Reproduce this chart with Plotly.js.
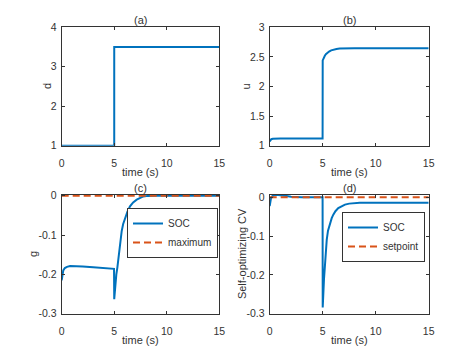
<!DOCTYPE html>
<html>
<head>
<meta charset="utf-8">
<script src="https://cdn.plot.ly/plotly-3.0.1.min.js"></script>
<style>html,body{margin:0;padding:0;background:#fff;}#chart{width:474px;height:355px;}</style>
</head>
<body>
<div id="chart"></div>
<script>
// ---- data ----
const tD = [0, 5, 5, 15];
const dVals = [1, 1, 3.5, 3.5];

const tU = [0, 0.05, 0.15, 0.3, 0.6, 1, 2, 3, 4, 4.99, 5, 5.05, 5.1, 5.2, 5.3, 5.45, 5.6, 5.8, 6, 6.3, 6.6, 7, 7.5, 8, 10, 15];
const uVals = [1.07, 1.095, 1.11, 1.118, 1.122, 1.123, 1.122, 1.121, 1.12, 1.12, 2.44, 2.47, 2.49, 2.52, 2.545, 2.57, 2.59, 2.61, 2.622, 2.633, 2.64, 2.645, 2.647, 2.648, 2.648, 2.648];

const tG = [0, 0.05, 0.15, 0.3, 0.5, 0.8, 1.2, 2, 3, 4, 4.98, 5.0, 5.05, 5.12, 5.2, 5.3, 5.4, 5.49, 5.6, 5.71, 5.85, 6.03, 6.25, 6.5, 6.8, 7.14, 7.45, 7.77, 8.2, 9, 15];
const gVals = [-0.215, -0.2, -0.19, -0.184, -0.181, -0.179, -0.179, -0.180, -0.182, -0.184, -0.186, -0.263, -0.245, -0.222, -0.2, -0.182, -0.155, -0.132, -0.11, -0.090, -0.072, -0.056, -0.041, -0.027, -0.017, -0.010, -0.005, -0.002, -0.0005, 0, 0];

const tCV = [0, 0.05, 0.12, 0.25, 0.5, 0.8, 1.2, 1.6, 2, 3, 4.99, 5.0, 5.05, 5.12, 5.22, 5.3, 5.38, 5.5, 5.69, 5.85, 6.0, 6.2, 6.47, 6.75, 7.1, 7.5, 7.9, 8.5, 10, 15];
const cvVals = [-0.023, -0.012, -0.003, 0.003, 0.006, 0.006, 0.005, 0.003, 0.001, 0, 0, -0.284, -0.255, -0.212, -0.170, -0.138, -0.110, -0.086, -0.066, -0.054, -0.045, -0.036, -0.028, -0.023, -0.019, -0.0165, -0.015, -0.0145, -0.014, -0.014];

const tRef = [0, 15];
const refVals = [0, 0];

const xTicks = [0, 5, 10, 15];
const dTicks = [1, 2, 3, 4];
const uTicks = [1, 1.5, 2, 2.5, 3];
const gTicks = [-0.3, -0.2, -0.1, 0];
const gTickText = ['-0.3', '-0.2', '-0.1', '0'];

// ---- styling ----
const W = 474, H = 355;
const px = v => v / W;
const py = v => 1 - v / H;
const BLUE = '#0072BD', ORANGE = '#D95319', AX = '#333333';
const FONT = 'Liberation Sans, Arial, Helvetica, sans-serif';

const traces = [
  {x: tD, y: dVals, xaxis: 'x', yaxis: 'y', mode: 'lines', line: {color: BLUE, width: 2}, showlegend: false},
  {x: tU, y: uVals, xaxis: 'x2', yaxis: 'y2', mode: 'lines', line: {color: BLUE, width: 2}, showlegend: false},
  {x: tG, y: gVals, xaxis: 'x3', yaxis: 'y3', mode: 'lines', name: 'SOC', line: {color: BLUE, width: 2}, legend: 'legend'},
  {x: tRef, y: refVals, xaxis: 'x3', yaxis: 'y3', mode: 'lines', name: 'maximum', line: {color: ORANGE, width: 2, dash: '7px,4px'}, legend: 'legend'},
  {x: tCV, y: cvVals, xaxis: 'x4', yaxis: 'y4', mode: 'lines', name: 'SOC', line: {color: BLUE, width: 2}, legend: 'legend2'},
  {x: tRef, y: refVals, xaxis: 'x4', yaxis: 'y4', mode: 'lines', name: 'setpoint', line: {color: ORANGE, width: 2, dash: '7px,4px'}, legend: 'legend2'}
];

const L1 = 61.7, R1 = 219.3, L2 = 269.7, R2 = 428.7;
const T1 = 27.3, B1 = 145.7, T2 = 194.5, B2 = 313.7;

function xax(dom, anchor) {
  return {domain: [px(dom[0]), px(dom[1])], anchor: anchor, range: [0, 15], tickvals: xTicks,
    showline: true, linecolor: AX, linewidth: 1, mirror: 'ticks', ticks: 'inside', ticklen: 3, tickcolor: AX,
    ticklabelstandoff: 8,
    showgrid: false, zeroline: false, tickfont: {family: FONT, size: 10.5, color: AX}, fixedrange: true};
}
function yax(dom, anchor, range, tv, tt) {
  const a = {domain: [py(dom[1]), py(dom[0])], anchor: anchor, range: range, tickvals: tv,
    showline: true, linecolor: AX, linewidth: 1, mirror: 'ticks', ticks: 'inside', ticklen: 3, tickcolor: AX,
    ticklabelstandoff: 2,
    showgrid: false, zeroline: false, tickfont: {family: FONT, size: 10.5, color: AX}, fixedrange: true};
  if (tt) a.ticktext = tt;
  return a;
}

function ann(text, x, y, size, rot) {
  return {text: text, x: px(x), y: py(y), xref: 'paper', yref: 'paper', xanchor: 'center', yanchor: 'middle',
    showarrow: false, textangle: rot || 0, font: {family: FONT, size: size, color: AX}};
}

const legendStyle = (x, y) => ({x: px(x), y: py(y), xanchor: 'right', yanchor: 'top', xref: 'paper', yref: 'paper',
  bgcolor: '#ffffff', bordercolor: AX, borderwidth: 1, font: {family: FONT, size: 10, color: AX},
  tracegroupgap: 0, itemwidth: 30});

const layout = {
  width: W, height: H, margin: {l: 0, r: 0, t: 0, b: 0}, paper_bgcolor: '#ffffff', plot_bgcolor: '#ffffff',
  showlegend: true,
  xaxis: xax([L1, R1], 'y'), yaxis: yax([T1, B1], 'x', [1, 4], dTicks),
  xaxis2: xax([L2, R2], 'y2'), yaxis2: yax([T1, B1], 'x2', [1, 3], uTicks),
  xaxis3: xax([L1, R1], 'y3'), yaxis3: yax([T2, B2], 'x3', [-0.3, 0.003], gTicks, gTickText),
  xaxis4: xax([L2, R2], 'y4'), yaxis4: yax([T2, B2], 'x4', [-0.3, 0.007], gTicks, gTickText),
  legend: legendStyle(218, 208),
  legend2: legendStyle(425, 212),
  annotations: [
    ann('(a)', (L1 + R1) / 2, 20, 11), ann('(b)', (L2 + R2) / 2, 20, 11),
    ann('(c)', (L1 + R1) / 2, 188, 11), ann('(d)', (L2 + R2) / 2, 188, 11),
    ann('time (s)', (L1 + R1) / 2, 171.5, 11), ann('time (s)', (L2 + R2) / 2, 171.5, 11),
    ann('time (s)', (L1 + R1) / 2, 340, 11), ann('time (s)', (L2 + R2) / 2, 340, 11),
    ann('d', 46.5, (T1 + B1) / 2, 11, -90), ann('u', 245, (T1 + B1) / 2, 11, -90),
    ann('g', 33, (T2 + B2) / 2, 11, -90), ann('Self-optimizing CV', 242, (T2 + B2) / 2, 11, -90)
  ]
};

Plotly.newPlot('chart', traces, layout, {staticPlot: true, displayModeBar: false});
</script>
</body>
</html>
